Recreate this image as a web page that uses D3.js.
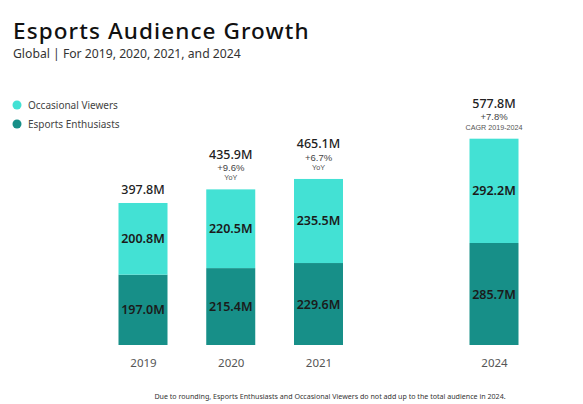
<!DOCTYPE html>
<html><head><meta charset="utf-8">
<script src="https://cdn.jsdelivr.net/npm/d3@7"></script>
<style>
html,body{margin:0;padding:0;background:#fff;}
svg{display:block;font-family:"Noto Sans",sans-serif;}
</style></head>
<body>
<svg id="chart" width="583" height="404"></svg>
<script>
const years = ["2019","2020","2021","2024"];
const slots = ["2019","2020","2021","gap","2024"];
const enthusiasts = [197.0,215.4,229.6,285.7];
const occasional = [200.8,220.5,235.5,292.2];
const totals = [397.8,435.9,465.1,577.8];
const growth = [null,"+9.6%","+6.7%","+7.8%"];
const growthNote = [null,"YoY","YoY","CAGR 2019-2024"];
const seriesNames = ["Esports Enthusiasts","Occasional Viewers"];
const colors = {"Esports Enthusiasts":"#178f88","Occasional Viewers":"#43e1d4"};

const svg = d3.select("#chart");
const W = 583, H = 404;
svg.append("rect").attr("width",W).attr("height",H).attr("fill","#fff");

// Title
svg.append("text").attr("x",13).attr("y",39).attr("font-size",22.5).attr("font-weight",500)
  .attr("letter-spacing",1.1).attr("fill","#111").text("Esports Audience Growth");
svg.append("text").attr("x",13).attr("y",58).attr("font-size",12.2)
  .attr("fill","#333").text("Global | For 2019, 2020, 2021, and 2024");

// Legend
const legendItems = ["Occasional Viewers","Esports Enthusiasts"];
legendItems.forEach((n,i)=>{
  const g = svg.append("g").attr("transform",`translate(17,${105+i*19})`);
  g.append("circle").attr("r",4.5).attr("fill",colors[n]);
  g.append("text").attr("x",11).attr("y",3.5).attr("font-size",10).attr("fill","#444").text(n);
});

const data = years.map((y,i)=>({year:y,"Esports Enthusiasts":enthusiasts[i],"Occasional Viewers":occasional[i],total:totals[i],growth:growth[i],note:growthNote[i]}));

const x = d3.scalePoint().domain(slots).range([143,494]);
const bw = 49;
const y = d3.scaleLinear().domain([0,600]).range([345,130.8]);

const stack = d3.stack().keys(seriesNames)(data);

const layer = svg.append("g").selectAll("g").data(stack).join("g")
  .attr("fill",d=>colors[d.key]);
layer.selectAll("rect").data(d=>d.map(v=>Object.assign(v,{key:d.key}))).join("rect")
  .attr("x",d=>x(d.data.year)-bw/2)
  .attr("width",bw)
  .attr("y",d=>y(d[1]))
  .attr("height",d=>y(d[0])-y(d[1]));

// segment labels
layer.selectAll("text").data(d=>d).join("text")
  .attr("x",d=>x(d.data.year))
  .attr("y",d=>(y(d[0])+y(d[1]))/2+4.5)
  .attr("text-anchor","middle").attr("font-size",12.5).attr("font-weight",600)
  .attr("fill","#1b1b1b")
  .text(d=>d.data[d.key].toFixed(1)+"M");

// total annotations
const ann = svg.append("g").selectAll("g").data(stack[1]).join("g")
  .attr("transform",d=>`translate(${x(d.data.year)},${y(d[1])})`);
ann.each(function(s){
  const d = s.data;
  const g = d3.select(this);
  if(d.growth){
    g.append("text").attr("y",-9).attr("text-anchor","middle").attr("font-size",7.2)
      .attr("font-family","'Liberation Sans',Arial,sans-serif")
      .attr("fill","#555").text(d.note);
    g.append("text").attr("y",-18.3).attr("text-anchor","middle").attr("font-size",9.5)
      .attr("font-family","'Liberation Sans',Arial,sans-serif")
      .attr("fill","#444").text(d.growth);
    g.append("text").attr("y",-30.5).attr("text-anchor","middle").attr("font-size",12.5).attr("font-weight",500)
      .attr("fill","#222").text(d.total.toFixed(1)+"M");
  } else {
    g.append("text").attr("y",-9).attr("text-anchor","middle").attr("font-size",12.5).attr("font-weight",500)
      .attr("fill","#222").text(d.total.toFixed(1)+"M");
  }
});

// x axis labels
const xAxis = d3.axisBottom(x).tickValues(years).tickSize(0).tickPadding(0);
const ax = svg.append("g").attr("transform","translate(0,359)").call(xAxis);
ax.select(".domain").remove();
ax.selectAll("text").attr("font-size",11.5).attr("fill","#555").attr("font-family","'Noto Sans',sans-serif");

// footnote
svg.append("text").attr("x",330).attr("y",399).attr("text-anchor","middle").attr("font-size",7.1)
  .attr("fill","#333").text("Due to rounding, Esports Enthusiasts and Occasional Viewers do not add up to the total audience in 2024.");
</script>
</body></html>
